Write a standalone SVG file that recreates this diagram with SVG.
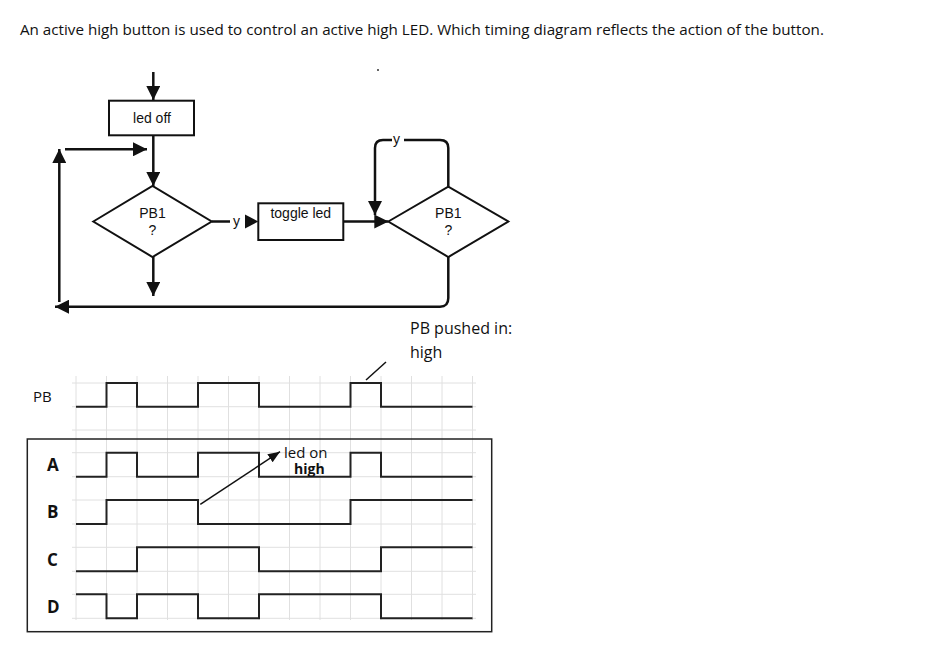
<svg xmlns="http://www.w3.org/2000/svg" width="952" height="645" viewBox="0 0 952 645">
<style>
.t{font-family:"Open Sans",sans-serif;fill:#111}
.f{font-family:"Liberation Sans",Arial,sans-serif;fill:#111;font-size:14px}
.fl{fill:none;stroke:#111;stroke-width:2.5}
.box{fill:#fff;stroke:#111;stroke-width:2}
.g{stroke:#e0e0e0;stroke-width:1}
.s{fill:none;stroke:#222;stroke-width:2}
.lb{font-family:"Open Sans",sans-serif;font-weight:bold;font-size:17px;fill:#111}
</style>
<defs>
<marker id="ah" viewBox="0 0 10 10" refX="10" refY="5" markerWidth="5.6" markerHeight="5.6" orient="auto" markerUnits="strokeWidth"><path d="M0,0L10,5L0,10z" fill="#111"/></marker>
<marker id="sa" viewBox="0 0 10 10" refX="10" refY="5" markerWidth="8" markerHeight="8" orient="auto" markerUnits="strokeWidth"><path d="M0,1L10,5L0,9z" fill="#111"/></marker>
</defs>
<rect width="952" height="645" fill="#fff"/>
<text class="t" x="20" y="35" font-size="15.2">An active high button is used to control an active high LED.  Which timing diagram reflects the action of the button.</text>
<circle cx="378" cy="70" r="1" fill="#333"/>
<g id="connectors">
<line class="fl" x1="153.3" y1="72" x2="153.3" y2="100" marker-end="url(#ah)"/>
<line class="fl" x1="153.3" y1="135" x2="153.3" y2="186" marker-end="url(#ah)"/>
<line class="fl" x1="153.3" y1="257" x2="153.3" y2="296" marker-end="url(#ah)"/>
<line class="fl" x1="65" y1="149.3" x2="147" y2="149.3" marker-end="url(#ah)"/>
<line class="fl" x1="59.3" y1="302" x2="59.3" y2="149" marker-end="url(#ah)"/>
<path class="fl" d="M448.3,257V298Q448.3,306.7,440,306.7H55" marker-end="url(#ah)"/>
<line class="fl" x1="211.7" y1="221.5" x2="230" y2="221.5"/>
<text class="f" x="233" y="226">y</text>
<path d="M245,214.5L258.3,221.5L245,228.5z" fill="#111"/>
<line class="fl" x1="343.3" y1="221.5" x2="388.3" y2="221.5" marker-end="url(#ah)"/>
<path class="fl" d="M448.3,186.7V148Q448.3,140,440,140H404M392,140H383Q375,140,375,148V215" marker-end="url(#ah)"/>
<text class="f" x="393" y="144">y</text>
</g>
<g id="led-off"><rect class="box" x="109" y="100.7" width="85" height="34.6"/><text class="f" x="152" y="123" font-size="16" text-anchor="middle">led off</text></g>
<g id="pb1-a"><path class="box" d="M93.3,221.5L152.5,186L211.7,221.5L152.5,257z"/><text class="f" x="152.5" y="218" text-anchor="middle">PB1</text><text class="f" x="152.5" y="235" text-anchor="middle">?</text></g>
<g id="toggle"><rect class="box" x="258.3" y="203.3" width="85" height="36.7"/><text class="f" x="300.8" y="218" text-anchor="middle">toggle led</text></g>
<g id="pb1-b"><path class="box" d="M388.3,221.5L448.3,186.7L508.3,221.5L448.3,257z"/><text class="f" x="448.3" y="218" text-anchor="middle">PB1</text><text class="f" x="448.3" y="235" text-anchor="middle">?</text></g>
<text class="t" x="410" y="334" font-size="16">PB pushed in:</text>
<text class="t" x="410" y="358" font-size="16">high</text>
<line x1="366" y1="380" x2="386" y2="362" stroke="#111" stroke-width="1.5"/>
<g id="grid">
<g class="g">
<line x1="76" y1="376" x2="76" y2="620"/><line x1="106.5" y1="376" x2="106.5" y2="620"/><line x1="137" y1="376" x2="137" y2="620"/><line x1="167.5" y1="376" x2="167.5" y2="620"/><line x1="198" y1="376" x2="198" y2="620"/><line x1="228.5" y1="376" x2="228.5" y2="620"/><line x1="259" y1="376" x2="259" y2="620"/><line x1="289.5" y1="376" x2="289.5" y2="620"/><line x1="320" y1="376" x2="320" y2="620"/><line x1="350.5" y1="376" x2="350.5" y2="620"/><line x1="381" y1="376" x2="381" y2="620"/><line x1="411.5" y1="376" x2="411.5" y2="620"/><line x1="442" y1="376" x2="442" y2="620"/><line x1="472.5" y1="376" x2="472.5" y2="620"/>
<line x1="72" y1="383" x2="476" y2="383"/><line x1="72" y1="406.7" x2="476" y2="406.7"/><line x1="72" y1="430" x2="476" y2="430"/><line x1="72" y1="452.7" x2="476" y2="452.7"/><line x1="72" y1="476.7" x2="476" y2="476.7"/><line x1="72" y1="500" x2="476" y2="500"/><line x1="72" y1="524" x2="476" y2="524"/><line x1="72" y1="547.3" x2="476" y2="547.3"/><line x1="72" y1="571.3" x2="476" y2="571.3"/><line x1="72" y1="594.3" x2="476" y2="594.3"/><line x1="72" y1="618.3" x2="476" y2="618.3"/>
</g>
</g>
<rect x="27.3" y="439" width="464.4" height="192.7" fill="none" stroke="#222" stroke-width="1.5"/>
<text class="t" x="33" y="402" font-size="15">PB</text>
<text class="lb" x="47" y="471">A</text>
<text class="lb" x="47" y="518">B</text>
<text class="lb" x="47" y="566">C</text>
<text class="lb" x="47" y="613">D</text>
<g id="signals">
<path class="s" d="M76,406.7H106.5V383H137V406.7H198V383H259V406.7H350.5V383H381V406.7H472.5"/>
<path class="s" d="M76,476.7H106.5V452.7H137V476.7H198V452.7H259V476.7H350.5V452.7H381V476.7H472.5"/>
<path class="s" d="M76,524H106.5V500H198V524H350.5V500H472.5"/>
<path class="s" d="M76,571.3H137V547.3H259V571.3H381V547.3H472.5"/>
<path class="s" d="M76,594.3H106.5V618.3H137V594.3H198V618.3H259V594.3H381V618.3H472.5"/>
</g>
<line x1="200.3" y1="504.3" x2="280" y2="451.7" stroke="#111" stroke-width="1.5" marker-end="url(#sa)"/>
<text class="t" x="284" y="458" font-size="15">led on</text>
<text class="t" x="294" y="474" font-size="14" font-weight="bold">high</text>
</svg>
